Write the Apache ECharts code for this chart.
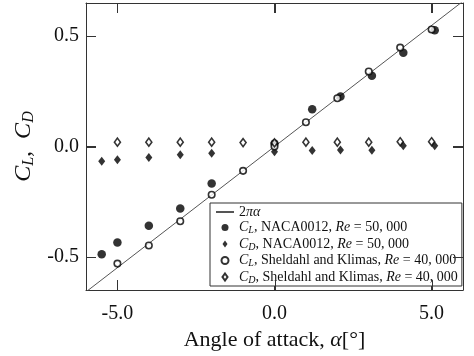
<!DOCTYPE html>
<html>
<head>
<meta charset="utf-8">
<script src="https://cdn.jsdelivr.net/npm/echarts@6/dist/echarts.min.js"></script>
<style>html,body{margin:0;padding:0;background:#fff;}#c{width:474px;height:356px;}</style>
</head>
<body>
<div id="c"></div>
<script>
// Theory line 2*pi*alpha (alpha in degrees -> radians), endpoints
var lineAlpha = [-6, 6];
var lineCl = [-0.658, 0.658];

// NACA0012, Re = 50,000
var nacaAlpha = [-5.5, -5.0, -4.0, -3.0, -2.0, 0.0, 1.2, 2.1, 3.1, 4.1, 5.1];
var nacaCl = [-0.488, -0.434, -0.359, -0.281, -0.167, 0.014, 0.169, 0.227, 0.321, 0.425, 0.527];
var nacaCd = [-0.066, -0.060, -0.050, -0.037, -0.030, -0.023, -0.018, -0.016, -0.017, 0.004, 0.004];

// Sheldahl and Klimas, Re = 40,000
var skAlpha = [-5, -4, -3, -2, -1, 0, 1, 2, 3, 4, 5];
var skCl = [-0.530, -0.448, -0.338, -0.218, -0.110, 0.000, 0.110, 0.219, 0.340, 0.448, 0.530];
var skCd = [0.020, 0.020, 0.020, 0.020, 0.018, 0.017, 0.020, 0.020, 0.020, 0.022, 0.022];

var xTicks = [-5, 0, 5];
var yTicks = [-0.5, 0, 0.5];
var xRange = [-6, 6];
var yRange = [-0.65, 0.65];

var seriesNames = ['theory', 'clNaca', 'cdNaca', 'clSk', 'cdSk'];
var legendLabels = {
  theory: '{t|2}{i|πα}',
  clNaca: '{i|C}{s|L}{t|, NACA0012, }{i|Re}{t| = 50, 000}',
  cdNaca: '{i|C}{s|D}{t|, NACA0012, }{i|Re}{t| = 50, 000}',
  clSk: '{i|C}{s|L}{t|, Sheldahl and Klimas, }{i|Re}{t| = 40, 000}',
  cdSk: '{i|C}{s|D}{t|, Sheldahl and Klimas, }{i|Re}{t| = 40, 000}'
};

function pairs(xs, ys) { return xs.map(function (x, i) { return [x, ys[i]]; }); }

var FONT = 'Liberation Serif';
var INK = '#111';
var FRAME = '#333';
var TICK_LEN = 10;
var legendRich = {
  t: { fontFamily: FONT, fontSize: 14, color: INK, lineHeight: 15 },
  i: { fontFamily: FONT, fontSize: 14, fontStyle: 'italic', color: INK, lineHeight: 15 },
  s: { fontFamily: FONT, fontSize: 10, fontStyle: 'italic', color: INK, lineHeight: 15, padding: [6, 0, 0, 0] }
};

var DIAMOND = 'path://M0,-1L0.72,0L0,1L-0.72,0Z';
var noSplit = { lineStyle: { color: 'rgba(0,0,0,0)' } };
var tickStyle = { color: FRAME, width: 1 };

var chart = echarts.init(document.getElementById('c'));
var option = {
  animation: false,
  grid: { left: 86, right: 11, top: 3, bottom: 64 },
  xAxis: [
    { type: 'value', min: xRange[0], max: xRange[1], position: 'bottom',
      axisLine: { onZero: false, lineStyle: { color: FRAME, width: 1 } },
      splitLine: noSplit,
      axisTick: { show: true, inside: true, length: TICK_LEN, customValues: xTicks, lineStyle: tickStyle },
      axisLabel: { customValues: xTicks, margin: 14, fontFamily: FONT, fontSize: 20, color: INK,
        formatter: function (v) { return v.toFixed(1); } },
      name: 'Angle of attack, {i|α}[°]', nameLocation: 'middle', nameGap: 25,
      nameTextStyle: { fontFamily: FONT, fontSize: 22, color: INK,
        rich: { i: { fontFamily: FONT, fontSize: 22, fontStyle: 'italic', color: INK } } } },
    { type: 'value', min: xRange[0], max: xRange[1], position: 'top',
      axisLine: { onZero: false, lineStyle: { color: FRAME, width: 1 } },
      splitLine: noSplit,
      axisTick: { show: true, inside: true, length: TICK_LEN, customValues: xTicks, lineStyle: tickStyle },
      axisLabel: { show: false } }
  ],
  yAxis: [
    { type: 'value', min: yRange[0], max: yRange[1], position: 'left',
      axisLine: { show: true, onZero: false, lineStyle: { color: FRAME, width: 1 } },
      splitLine: noSplit,
      axisTick: { show: true, inside: true, length: TICK_LEN, customValues: yTicks, lineStyle: tickStyle },
      axisLabel: { customValues: yTicks, margin: 7, fontFamily: FONT, fontSize: 20, color: INK,
        formatter: function (v) { return v.toFixed(1); } },
      name: '{i|C}{s|L}{t|,  }{i|C}{s|D}', nameLocation: 'middle', nameGap: 46,
      nameTextStyle: { fontFamily: FONT, fontSize: 22, color: INK,
        rich: {
          i: { fontFamily: FONT, fontSize: 24, fontStyle: 'italic', color: INK, lineHeight: 28 },
          t: { fontFamily: FONT, fontSize: 24, color: INK, lineHeight: 28 },
          s: { fontFamily: FONT, fontSize: 16, fontStyle: 'italic', color: INK, lineHeight: 28, padding: [10, 0, 0, 0] }
        } } },
    { type: 'value', min: yRange[0], max: yRange[1], position: 'right',
      axisLine: { show: true, onZero: false, lineStyle: { color: FRAME, width: 1 } },
      splitLine: noSplit,
      axisTick: { show: true, inside: true, length: TICK_LEN, customValues: yTicks, lineStyle: tickStyle },
      axisLabel: { show: false } }
  ],
  legend: {
    orient: 'vertical', left: 210, top: 203,
    width: 247,
    padding: [2, 4, 1, 5], itemGap: 0.5,
    itemWidth: 18, itemHeight: 7,
    symbolKeepAspect: true,
    backgroundColor: '#fff', borderColor: FRAME, borderWidth: 1,
    data: [
      { name: 'theory', itemStyle: { color: 'rgba(0,0,0,0)', borderWidth: 0, borderColor: 'rgba(0,0,0,0)' } },
      { name: 'clNaca', icon: 'circle' },
      { name: 'cdNaca', icon: DIAMOND },
      { name: 'clSk', icon: 'circle' },
      { name: 'cdSk', icon: DIAMOND }
    ],
    formatter: function (name) { return legendLabels[name]; },
    textStyle: { fontFamily: FONT, fontSize: 14, color: INK, rich: legendRich }
  },
  series: [
    { name: seriesNames[0], type: 'line', data: pairs(lineAlpha, lineCl), showSymbol: false, symbol: 'none',
      lineStyle: { color: '#555', width: 1 }, itemStyle: { color: '#555' }, z: 1 },
    { name: seriesNames[1], type: 'scatter', data: pairs(nacaAlpha, nacaCl), symbol: 'circle', symbolSize: 8.5,
      itemStyle: { color: '#000' }, z: 3 },
    { name: seriesNames[2], type: 'scatter', data: pairs(nacaAlpha, nacaCd), symbol: 'diamond', symbolSize: [7, 9],
      itemStyle: { color: '#000' }, z: 3 },
    { name: seriesNames[3], type: 'scatter', data: pairs(skAlpha, skCl), symbol: 'circle', symbolSize: 6.5,
      itemStyle: { color: '#fff', borderColor: '#000', borderWidth: 1.6 }, z: 4 },
    { name: seriesNames[4], type: 'scatter', data: pairs(skAlpha, skCd), symbol: 'diamond', symbolSize: [6, 8],
      itemStyle: { color: '#fff', borderColor: '#000', borderWidth: 1.6 }, z: 4 }
  ]
};
chart.setOption(option);

// Frame ticks placed through the axes' own scales (mirrors the inside ticks on all four sides)
(function () {
  var left = chart.convertToPixel({ xAxisIndex: 0 }, xRange[0]);
  var right = chart.convertToPixel({ xAxisIndex: 0 }, xRange[1]);
  var top = chart.convertToPixel({ yAxisIndex: 0 }, yRange[1]);
  var bottom = chart.convertToPixel({ yAxisIndex: 0 }, yRange[0]);
  var els = [];
  function seg(x1, y1, x2, y2) {
    els.push({ type: 'line', silent: true, z: 10,
      shape: { x1: x1, y1: y1, x2: x2, y2: y2 },
      style: { stroke: FRAME, lineWidth: 1 } });
  }
  xTicks.forEach(function (v) {
    var px = Math.round(chart.convertToPixel({ xAxisIndex: 0 }, v)) + 0.5;
    seg(px, bottom, px, bottom - TICK_LEN);
    seg(px, top, px, top + TICK_LEN);
  });
  yTicks.forEach(function (v) {
    var py = Math.round(chart.convertToPixel({ yAxisIndex: 0 }, v)) + 0.5;
    seg(left, py, left + TICK_LEN, py);
    seg(right, py, right - TICK_LEN, py);
  });
  chart.setOption({ graphic: { elements: els } });
})();
</script>
</body>
</html>
